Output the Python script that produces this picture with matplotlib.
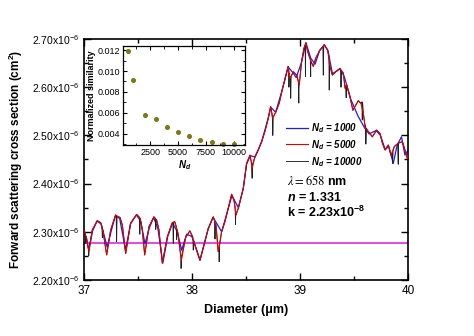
import matplotlib
matplotlib.use("Agg")
import matplotlib.pyplot as plt
from matplotlib.ticker import MultipleLocator, FuncFormatter

plt.rcParams['font.family'] = ['Liberation Sans', 'DejaVu Sans']
plt.rcParams['mathtext.fontset'] = 'custom'
plt.rcParams['mathtext.rm'] = 'Liberation Sans'
plt.rcParams['mathtext.it'] = 'Liberation Sans:italic:bold'
plt.rcParams['mathtext.bf'] = 'Liberation Sans:bold'

# ---------------- data (y in units of 1e-6 cm^2) ----------------
red_x = [37.000, 37.025, 37.046, 37.077, 37.123, 37.154, 37.179, 37.210, 37.247, 37.293,
         37.315, 37.333, 37.355, 37.386, 37.432, 37.488, 37.519, 37.540, 37.562, 37.602,
         37.648, 37.673, 37.694, 37.725, 37.772, 37.818, 37.840, 37.870, 37.901, 37.941,
         37.980, 38.020, 38.074, 38.151, 38.197, 38.222, 38.243, 38.274, 38.305, 38.336,
         38.367, 38.388, 38.407, 38.429, 38.475, 38.506, 38.537, 38.558, 38.583, 38.614,
         38.645, 38.675, 38.706, 38.728, 38.746, 38.777, 38.808, 38.839, 38.870, 38.891,
         38.907, 38.938, 38.969, 38.993, 39.015, 39.037, 39.055, 39.071, 39.102, 39.124,
         39.145, 39.185, 39.226, 39.256, 39.275, 39.300, 39.331, 39.371, 39.402, 39.417,
         39.432, 39.463, 39.490, 39.510, 39.540, 39.565, 39.587, 39.605, 39.633, 39.670,
         39.710, 39.741, 39.763, 39.787, 39.818, 39.843, 39.874, 39.911, 39.948, 39.972,
         39.994, 40.000]
red_y = [2.304, 2.286, 2.259, 2.304, 2.323, 2.319, 2.297, 2.252, 2.304, 2.335,
         2.331, 2.330, 2.314, 2.255, 2.318, 2.336, 2.328, 2.304, 2.252, 2.311,
         2.331, 2.324, 2.304, 2.235, 2.290, 2.319, 2.321, 2.297, 2.240, 2.288,
         2.302, 2.278, 2.241, 2.307, 2.331, 2.314, 2.259, 2.300, 2.321, 2.349,
         2.378, 2.366, 2.335, 2.349, 2.390, 2.442, 2.459, 2.432, 2.456, 2.470,
         2.487, 2.508, 2.535, 2.560, 2.535, 2.549, 2.567, 2.598, 2.625, 2.643,
         2.618, 2.632, 2.625, 2.605, 2.653, 2.681, 2.692, 2.674, 2.653, 2.643,
         2.660, 2.677, 2.688, 2.677, 2.646, 2.625, 2.632, 2.639, 2.629, 2.598,
         2.605, 2.580, 2.552, 2.560, 2.572, 2.566, 2.545, 2.515, 2.508, 2.497,
         2.511, 2.504, 2.484, 2.470, 2.480, 2.459, 2.477, 2.484, 2.487, 2.470,
         2.452, 2.458]

# extra sharp resonance dips present only in the N_d = 10000 curve
spike_x = [37.011, 37.015, 37.019, 37.042, 37.044, 37.049, 37.166, 37.170, 37.174,
           37.298, 37.302, 37.306, 37.515, 37.517, 37.523, 37.660, 37.664, 37.668,
           37.823, 37.827, 37.831, 37.854, 37.858, 37.862, 37.897, 37.899, 37.905,
           38.008, 38.012, 38.016, 38.209, 38.213, 38.217, 38.248, 38.252, 38.256,
           38.400, 38.403, 38.405, 38.553, 38.557, 38.561, 38.742, 38.748, 38.752,
           38.894, 38.898, 38.902, 38.911, 38.914, 38.918, 38.985, 38.989, 38.991,
           39.048, 39.051, 39.053, 39.096, 39.099, 39.100, 39.212, 39.216, 39.220,
           39.268, 39.271, 39.274, 39.376, 39.380, 39.384, 39.424, 39.428, 39.430,
           39.574, 39.577, 39.580, 39.608, 39.610, 39.614, 39.854, 39.858, 39.862,
           39.906, 39.910, 39.914]
spike_y = [2.297, 2.276, 2.290, 2.262, 2.250, 2.270, 2.312, 2.288, 2.304,
           2.334, 2.280, 2.333, 2.330, 2.295, 2.326, 2.328, 2.305, 2.326,
           2.320, 2.276, 2.320, 2.312, 2.284, 2.305, 2.250, 2.224, 2.250,
           2.290, 2.262, 2.282, 2.324, 2.285, 2.318, 2.265, 2.238, 2.272,
           2.352, 2.315, 2.338, 2.442, 2.411, 2.440, 2.545, 2.500, 2.538,
           2.640, 2.600, 2.628, 2.620, 2.577, 2.622, 2.612, 2.567, 2.600,
           2.688, 2.622, 2.690, 2.657, 2.622, 2.655, 2.684, 2.625, 2.687,
           2.665, 2.594, 2.650, 2.637, 2.600, 2.634, 2.603, 2.578, 2.604,
           2.570, 2.532, 2.568, 2.520, 2.482, 2.515, 2.464, 2.442, 2.468,
           2.483, 2.440, 2.484]

blue_x = [37.000, 37.045, 37.080, 37.120, 37.160, 37.215, 37.250, 37.290, 37.330, 37.385,
          37.430, 37.485, 37.525, 37.565, 37.605, 37.645, 37.685, 37.730, 37.775, 37.820,
          37.860, 37.905, 37.950, 38.000, 38.074, 38.150, 38.195, 38.275, 38.335, 38.370,
          38.430, 38.475, 38.505, 38.540, 38.585, 38.645, 38.705, 38.730, 38.775, 38.840,
          38.890, 38.935, 38.965, 39.015, 39.055, 39.100, 39.140, 39.180, 39.225, 39.260,
          39.300, 39.330, 39.370, 39.410, 39.470, 39.540, 39.600, 39.640, 39.705, 39.745,
          39.790, 39.820, 39.864, 39.900, 39.940, 39.972, 40.000]
blue_y = [2.305, 2.262, 2.302, 2.322, 2.316, 2.268, 2.300, 2.333, 2.328, 2.262,
          2.316, 2.335, 2.322, 2.275, 2.308, 2.330, 2.306, 2.235, 2.290, 2.318,
          2.302, 2.262, 2.295, 2.290, 2.241, 2.306, 2.330, 2.300, 2.348, 2.375,
          2.350, 2.390, 2.440, 2.458, 2.455, 2.487, 2.535, 2.558, 2.548, 2.598,
          2.642, 2.630, 2.620, 2.652, 2.692, 2.660, 2.648, 2.675, 2.688, 2.675,
          2.628, 2.632, 2.638, 2.622, 2.575, 2.539, 2.515, 2.503, 2.510, 2.500,
          2.470, 2.478, 2.442, 2.480, 2.497, 2.459, 2.469]

baseline_y = 2.276

labels = ["1000", "5000", "10000"]

inset_nd = [500, 1000, 2000, 3000, 4000, 5000, 6000, 7000, 8000, 9000, 10000]
inset_sim = [0.01193, 0.00915, 0.00576, 0.00541, 0.00467, 0.00419, 0.00381,
             0.00340, 0.00317, 0.00295, 0.00295]

# black curve = red samples plus extra resonance points
black = sorted(zip(red_x + spike_x, red_y + spike_y))
black_x = [p[0] for p in black]
black_y = [p[1] for p in black]

# ---------------- figure ----------------
fig = plt.figure(figsize=(4.74, 3.36), dpi=100)
ax = fig.add_axes([0.1772, 0.1667, 0.6835, 0.7173])

ax.axhline(baseline_y, color='#e448e4', lw=1.4, zorder=1)
lb, = ax.plot(blue_x, blue_y, color='#1a1aff', lw=0.9, zorder=2)
lk, = ax.plot(black_x, black_y, color='#202020', lw=0.65, zorder=3)
lr, = ax.plot(red_x, red_y, color='#e00000', lw=0.8, zorder=4)

ax.set_xlim(37, 40)
ax.set_ylim(2.20, 2.70)
ax.xaxis.set_major_locator(MultipleLocator(1))
ax.xaxis.set_minor_locator(MultipleLocator(0.5))
ax.yaxis.set_major_locator(MultipleLocator(0.1))
ax.yaxis.set_minor_locator(MultipleLocator(0.05))
ax.xaxis.set_major_formatter(FuncFormatter(lambda v, p: f"{v:.0f}"))
ax.yaxis.set_major_formatter(FuncFormatter(lambda v, p: f"{v:.2f}x10$^{{-6}}$"))
ax.tick_params(which='both', direction='in', top=True, right=True, width=1)
ax.tick_params(axis='y', labelsize=7.5)
ax.tick_params(axis='x', labelsize=8.5)
ax.tick_params(which='major', length=5)
ax.tick_params(which='minor', length=3)
for s in ax.spines.values():
    s.set_linewidth(1.2)

ax.set_xlabel("Diameter (\u03bcm)", fontsize=9, fontweight='bold', labelpad=5)
ax.set_ylabel("Forward scattering cross section (cm$^{\\mathbf{2}}$)", fontsize=8.5,
              fontweight='bold', labelpad=5)

leg = ax.legend([lb, lr, lk], [f"$N_d$ = {t}" for t in labels],
                loc='upper left', bbox_to_anchor=(0.622, 0.66), frameon=False,
                borderaxespad=0, borderpad=0,
                prop={'weight': 'bold', 'style': 'italic', 'size': 7},
                handlelength=2.3, handletextpad=0.3, labelspacing=0.32)

ax.text(0.628, 0.395, r"$\lambda = 658$ nm", transform=ax.transAxes, fontsize=9,
        fontweight='bold', math_fontfamily='stix')
ax.text(0.628, 0.328, r"$n$ = 1.331", transform=ax.transAxes, fontsize=9,
        fontweight='bold')
ax.text(0.628, 0.26, r"k = 2.23x10$^{\mathbf{-8}}$", transform=ax.transAxes, fontsize=9,
        fontweight='bold')

# ---------------- inset ----------------
ins = fig.add_axes([0.2601, 0.5685, 0.2568, 0.2946])
ins.plot(inset_nd, inset_sim, 'o', color='#7a7a10', ms=2.6, clip_on=False)
ins.set_xlim(100, 11000)
ins.set_ylim(0.0029, 0.0124)
ins.xaxis.set_major_locator(MultipleLocator(2500))
ins.xaxis.set_minor_locator(MultipleLocator(1250))
ins.yaxis.set_major_locator(MultipleLocator(0.002))
ins.yaxis.set_minor_locator(MultipleLocator(0.001))
ins.yaxis.set_major_formatter(FuncFormatter(lambda v, p: f"{v:.3f}"))
ins.tick_params(which='both', direction='in', top=True, right=True, labelsize=6.5, pad=2)
ins.tick_params(which='major', length=3)
ins.tick_params(which='minor', length=1.8)
for s in ins.spines.values():
    s.set_linewidth(0.9)
ins.set_xlabel("$N_d$", fontsize=7, labelpad=1)
ins.set_ylabel("Normalized similarity", fontsize=6.5, fontweight='bold', labelpad=1)

fig.savefig("out.png", dpi=100)
